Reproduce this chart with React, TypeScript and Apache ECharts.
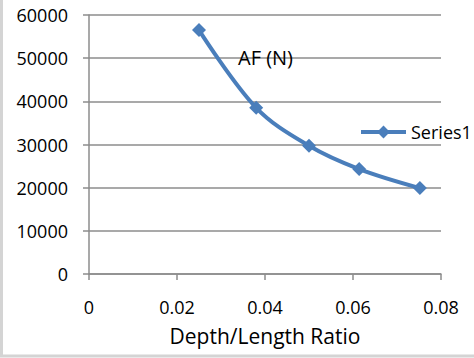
import React, { useEffect, useRef } from "react";
import * as echarts from "echarts";

const xValues = [0.025, 0.038, 0.05, 0.0614, 0.0752];
const yValues = [56500, 38500, 29700, 24300, 19900];
const seriesName = "Series1";
const chartTitle = "AF (N)";
const xAxisName = "Depth/Length Ratio";

const FONT = "'Open Sans', sans-serif";
const GRID = "#8c8c8c";
const BLUE = "#4a7ebb";

export default function App() {
  const ref = useRef<HTMLDivElement>(null);
  useEffect(() => {
    if (!ref.current) return;
    const chart = echarts.init(ref.current, null, { renderer: "svg" });
    chart.setOption({
      animation: false,
      backgroundColor: "#ffffff",
      textStyle: { fontFamily: FONT },
      title: {
        text: chartTitle,
        left: 233,
        top: 42,
        textStyle: { fontFamily: FONT, fontSize: 20, fontWeight: "normal", color: "#000" },
      },
      legend: {
        data: [seriesName],
        left: 354,
        top: 118,
        padding: [5, 0, 5, 5],
        itemWidth: 45,
        itemHeight: 16,
        lineStyle: { width: 4 },
        textStyle: { fontFamily: FONT, fontSize: 18, color: "#000" },
      },
      grid: { left: 89, right: 33, top: 15, bottom: 84, containLabel: false },
      xAxis: {
        type: "value",
        min: 0,
        max: 0.08,
        interval: 0.02,
        name: xAxisName,
        nameLocation: "middle",
        nameGap: 51,
        nameTextStyle: { fontFamily: FONT, fontSize: 21, color: "#000" },
        axisLine: { show: true, lineStyle: { color: GRID, width: 1.5 } },
        axisTick: { show: true, inside: false, length: 6, lineStyle: { color: GRID, width: 1.5 } },
        axisLabel: { margin: 24, fontFamily: FONT, fontSize: 18, color: "#000", formatter: (v: number) => (v === 0 ? "0" : v.toFixed(2)) },
        splitLine: { show: false },
      },
      yAxis: {
        type: "value",
        min: 0,
        max: 60000,
        interval: 10000,
        axisLine: { show: true, lineStyle: { color: GRID, width: 1.5 } },
        axisTick: { show: true, inside: false, length: 6, lineStyle: { color: GRID, width: 1.5 } },
        axisLabel: { margin: 21, fontFamily: FONT, fontSize: 18, color: "#000", formatter: (v: number) => String(v) },
        splitLine: { show: true, lineStyle: { color: GRID, width: 1.5 } },
      },
      series: [
        {
          name: seriesName,
          type: "line",
          smooth: 0.35,
          data: xValues.map((x, i) => [x, yValues[i]]),
          symbol: "diamond",
          symbolSize: 14,
          lineStyle: { color: BLUE, width: 4 },
          itemStyle: { color: BLUE },
        },
      ],
      graphic: [
        { type: "line", shape: { x1: 1.5, y1: 0, x2: 1.5, y2: 356 }, style: { stroke: "#d4d4d4", lineWidth: 3 } },
        { type: "line", shape: { x1: 0, y1: 356, x2: 474, y2: 356 }, style: { stroke: "#d4d4d4", lineWidth: 3 } },
      ],
    });
    return () => chart.dispose();
  }, []);
  return <div ref={ref} style={{ position: "absolute", left: 0, top: 0, width: 474, height: 358 }} />;
}
